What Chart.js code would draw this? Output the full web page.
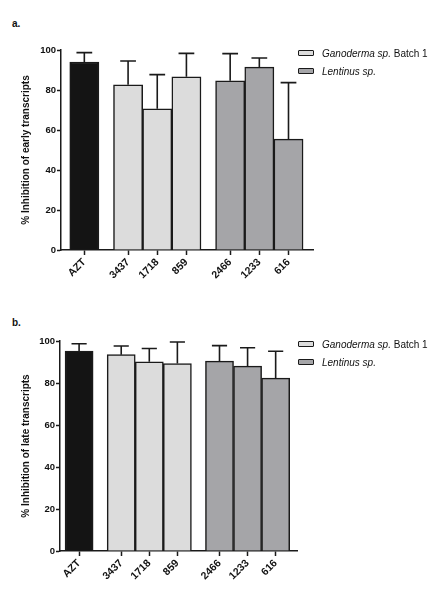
<!DOCTYPE html>
<html>
<head>
<meta charset="utf-8">
<script src="https://cdn.jsdelivr.net/npm/chart.js@4.4.1/dist/chart.umd.min.js"></script>
<style>
  body { margin: 0; background: #fff; font-family: Arial, "Liberation Sans", sans-serif; }
  #wrap { position: relative; width: 447px; height: 603px; }
  canvas { position: absolute; left: 0; }
  .panel { position: absolute; left: 12px; font-weight: bold; font-size: 10px; color: #111; }
  .legend { position: absolute; left: 298px; font-size: 10px; color: #111; }
  .legend div { height: 17.5px; line-height: 10px; white-space: nowrap; }
  .legend span.box { display: inline-block; width: 14px; height: 4px; border: 1.3px solid #1a1a1a;
    border-radius: 1px; margin-right: 8px; vertical-align: 1px; }
</style>
</head>
<body>
<div id="wrap">
  <div class="panel" style="top:18px">a.</div>
  <canvas id="chartA" width="447" height="300" style="top:0"></canvas>
  <div class="legend" id="legendA" style="top:49px"></div>

  <div class="panel" style="top:317px">b.</div>
  <canvas id="chartB" width="447" height="303" style="top:300px"></canvas>
  <div class="legend" id="legendB" style="top:340px"></div>
</div>
<script>
// categories and which treatment group each belongs to
var labels = ["AZT", "3437", "1718", "859", "2466", "1233", "616"];
var groupOf = [0, 1, 1, 1, 2, 2, 2];
var groupColors = ["#141414", "#dcdcdc", "#a5a5a8"];
var legendNames = ['<i>Ganoderma sp.</i> Batch 1', '<i>Lentinus sp.</i>'];
var yTicks = [0, 20, 40, 60, 80, 100];

// a. early transcripts (mean, upper SD)
var earlyMean = [94, 82.6, 70.6, 86.6, 84.6, 91.4, 55.4];
var earlySd   = [4.7, 11.9, 17.1, 11.7, 13.6, 4.6, 28.3];

// b. late transcripts (mean, upper SD)
var lateMean = [95.2, 93.5, 90.1, 89.3, 90.4, 88, 82.3];
var lateSd   = [3.5, 4.1, 6.3, 10.2, 7.4, 8.8, 12.8];

var FONT = 'Arial, "Liberation Sans", sans-serif';
var INK = '#1a1a1a';

// bar slot position: one unit per bar, half a unit extra between groups
var xs = labels.map(function(l, i){ return i + groupOf[i] * 0.5; });

var errorBars = {
  id: 'errorBars',
  afterDatasetsDraw: function(chart) {
    var ctx = chart.ctx, y = chart.scales.y;
    var ds = chart.data.datasets[0];
    var meta = chart.getDatasetMeta(0);
    ctx.save();
    ctx.strokeStyle = INK;
    ctx.lineWidth = 1.6;
    meta.data.forEach(function(bar, i){
      var top = y.getPixelForValue(ds.data[i].y + ds.errors[i]);
      var cap = bar.width * 0.27;
      ctx.beginPath();
      ctx.moveTo(bar.x, bar.y);
      ctx.lineTo(bar.x, top);
      ctx.moveTo(bar.x - cap, top);
      ctx.lineTo(bar.x + cap, top);
      ctx.stroke();
    });
    ctx.restore();
  }
};

function makeChart(id, means, sds, title, g) {
  return new Chart(document.getElementById(id), {
    type: 'bar',
    data: {
      datasets: [{
        data: means.map(function(v, i){ return {x: xs[i], y: v}; }),
        errors: sds,
        backgroundColor: groupOf.map(function(k){ return groupColors[k]; }),
        borderColor: INK,
        borderWidth: 1.5,
        barPercentage: 1,
        categoryPercentage: 1
      }]
    },
    options: {
      responsive: false,
      animation: false,
      layout: { padding: { left: 0, top: g.top, right: g.right, bottom: 0 } },
      plugins: { legend: { display: false }, tooltip: { enabled: false } },
      scales: {
        x: {
          type: 'linear',
          min: g.xMin, max: g.xMax,
          offset: false,
          afterBuildTicks: function(s){ s.ticks = xs.map(function(v){ return {value: v}; }); },
          afterFit: function(s){ s.height = g.xHeight; },
          grid: { offset: false, drawOnChartArea: false, drawTicks: true, tickLength: 5,
                  tickWidth: 1.5, tickColor: INK },
          border: { color: INK, width: 1.5 },
          ticks: {
            autoSkip: false, minRotation: 45, maxRotation: 45, padding: 1,
            color: '#111', font: { family: FONT, size: 10.5, weight: 'bold' },
            callback: function(v, i){ return labels[i]; }
          }
        },
        y: {
          min: 0, max: 100,
          afterBuildTicks: function(s){ s.ticks = yTicks.map(function(v){ return {value: v}; }); },
          afterFit: function(s){ s.width = g.yWidth; },
          grid: { drawOnChartArea: false, drawTicks: true, tickLength: 4, tickWidth: 1.5, tickColor: INK },
          border: { color: INK, width: 1.5 },
          ticks: { padding: 1, color: '#111', font: { family: FONT, size: 9.5, weight: 'bold' } },
          title: { display: true, text: title, color: '#111', padding: { top: 20, bottom: 0 },
                   font: { family: FONT, size: 10, weight: 'bold' } }
        }
      }
    },
    plugins: [errorBars]
  });
}

function makeLegend(id) {
  var el = document.getElementById(id);
  legendNames.forEach(function(name, k){
    var row = document.createElement('div');
    row.innerHTML = '<span class="box" style="background:' + groupColors[k + 1] + '"></span>' + name;
    el.appendChild(row);
  });
}

makeChart('chartA', earlyMean, earlySd, '% Inhibition of early transcripts',
          { top: 50, right: 134, yWidth: 61, xHeight: 50, xMin: -0.8, xMax: 7.84 });
makeChart('chartB', lateMean, lateSd, '% Inhibition of late transcripts',
          { top: 41, right: 150, yWidth: 60, xHeight: 52, xMin: -0.68, xMax: 7.76 });
makeLegend('legendA');
makeLegend('legendB');
</script>
</body>
</html>
